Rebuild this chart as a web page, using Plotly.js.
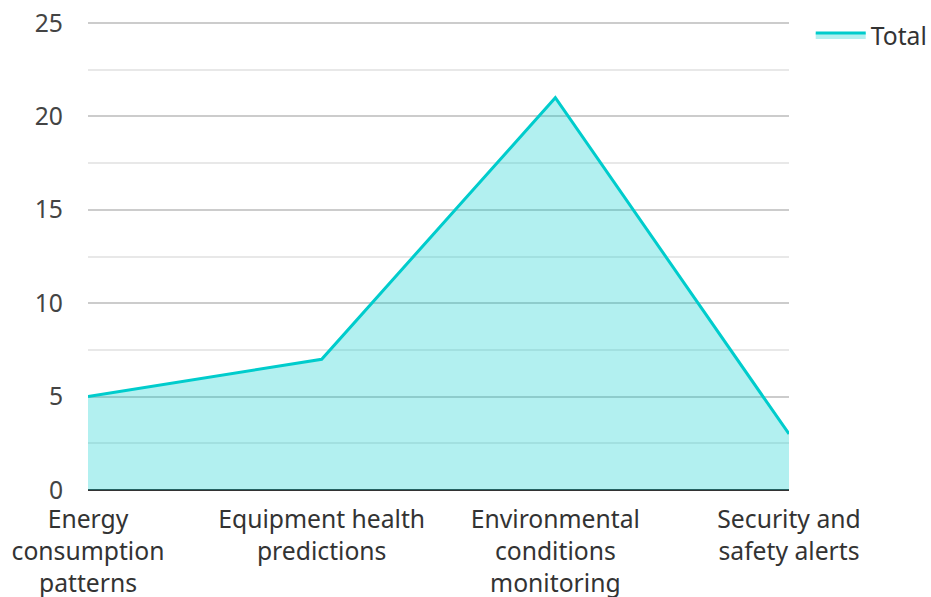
<!DOCTYPE html>
<html><head><meta charset="utf-8">
<script src="https://cdn.plot.ly/plotly-3.0.1.min.js"></script>
<style>html,body{margin:0;padding:0;background:#fff;}#chart{width:931px;height:597px;}</style>
</head><body><div id="chart"></div>
<script>
const categories = ["Energy<br>consumption<br>patterns", "Equipment health<br>predictions", "Environmental<br>conditions<br>monitoring", "Security and<br>safety alerts"];
const totalValues = [5, 7, 21, 3];
const seriesName = "Total";
const yTickValues = [0, 5, 10, 15, 20, 25];

const trace = {
  x: categories, y: totalValues, name: seriesName, type: "scatter", mode: "lines",
  fill: "tozeroy", line: {color: "#00CCCC", width: 3},
  fillcolor: "rgba(0,204,204,0.3)"
};
const layout = {
  width: 931, height: 597,
  margin: {l: 88, r: 142, t: 18, b: 107, autoexpand: false},
  font: {family: "Noto Sans, Open Sans, sans-serif", size: 24.7, color: "#333"},
  paper_bgcolor: "#fff", plot_bgcolor: "#fff",
  showlegend: true,
  legend: {x: 1.031, y: 1.012, xanchor: "left", yanchor: "top", itemwidth: 50, font: {size: 24.7, color: "#333"}},
  xaxis: {type: "category", range: [0, 3], showgrid: false, showline: false, zeroline: false, ticks: "", ticklabelstandoff: 12, tickfont: {size: 24.7, color: "#333"}, automargin: false},
  yaxis: {range: [0, 25.27], tickvals: yTickValues, showgrid: true, gridcolor: "#cccccc", gridwidth: 1.5,
    minor: {dtick: 2.5, showgrid: true, gridcolor: "#e8e8e8", gridwidth: 1.5},
    zeroline: true, zerolinecolor: "#333", zerolinewidth: 2, showline: false, ticks: "", ticklabelstandoff: 24,
    tickfont: {size: 24.7, color: "#444"}, automargin: false}
};
Plotly.newPlot("chart", [trace], layout, {displayModeBar: false});
</script></body></html>
